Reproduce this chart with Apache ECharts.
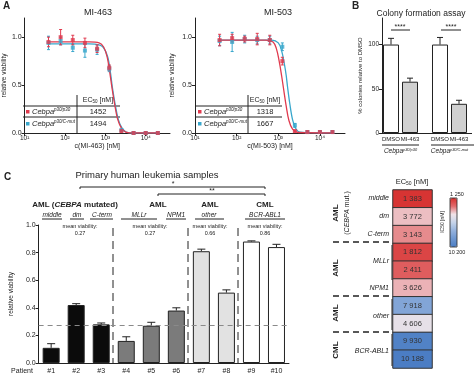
<!DOCTYPE html>
<html>
<head>
<meta charset="utf-8">
<script src="https://cdn.jsdelivr.net/npm/echarts@6/dist/echarts.min.js"></script>
<style>
  html, body { margin: 0; padding: 0; background: #fff; }
  #chart { width: 474px; height: 375px; }
</style>
</head>
<body>
<div id="chart"></div>
<script>
// ---- data ----
const doses = [39, 78, 156, 312, 625, 1250, 2500, 5000, 10000, 20000]

// MI-463 dose response
const mi463Red = [0.95, 1.00, 0.97, 0.94, 0.88, 0.68, 0.02, 0.00, 0.00, 0.00]
const mi463RedErr = [0.05, 0.08, 0.05, 0.05, 0.04, 0.03, 0.01, 0.01, 0.01, 0.01]
const mi463Blue = [0.94, 0.96, 0.89, 0.86, 0.87, 0.67, 0.03, 0.00, 0.00, 0.00]
const mi463BlueErr = [0.07, 0.04, 0.04, 0.07, 0.05, 0.03, 0.01, 0.01, 0.01, 0.01]
const mi463RedFit = [[39, 0.95], [400, 0.95], [700, 0.94], [900, 0.90], [1100, 0.80], [1300, 0.62], [1450, 0.48], [1700, 0.30], [2000, 0.15], [2500, 0.05], [3200, 0.01], [5000, 0], [20000, 0]]
const mi463BlueFit = [[39, 0.93], [400, 0.93], [700, 0.92], [900, 0.89], [1150, 0.79], [1350, 0.62], [1500, 0.47], [1750, 0.30], [2100, 0.14], [2600, 0.05], [3300, 0.01], [5000, 0], [20000, 0]]

// MI-503 dose response
const mi503Red = [0.97, 0.99, 0.98, 0.98, 0.97, 0.75, 0.02, 0.01, 0.01, 0.01]
const mi503RedErr = [0.06, 0.04, 0.03, 0.06, 0.05, 0.04, 0.01, 0.01, 0.01, 0.01]
const mi503Blue = [0.96, 0.95, 0.98, 0.97, 0.97, 0.90, 0.08, 0.01, 0.01, 0.01]
const mi503BlueErr = [0.05, 0.10, 0.04, 0.04, 0.04, 0.04, 0.02, 0.01, 0.01, 0.01]
const mi503RedFit = [[39, 0.97], [500, 0.97], [750, 0.95], [900, 0.88], [1050, 0.75], [1200, 0.60], [1320, 0.48], [1550, 0.28], [1800, 0.13], [2200, 0.04], [3000, 0.005], [20000, 0]]
const mi503BlueFit = [[39, 0.97], [700, 0.97], [1000, 0.94], [1200, 0.86], [1400, 0.72], [1550, 0.60], [1670, 0.48], [1900, 0.30], [2200, 0.14], [2600, 0.05], [3300, 0.01], [20000, 0]]

// colony formation (categories = genotype, series = treatment)
const genotypes = ['p30/p30', 'p30/C-mut']
const dmsoColonies = [100, 100]
const dmsoErr = [7, 8]
const mi463Colonies = [58, 33]
const mi463ColErr = [4, 4]

// primary samples
const patients = ['#1', '#2', '#3', '#4', '#5', '#6', '#7', '#8', '#9', '#10']
const viability = [0.11, 0.42, 0.28, 0.16, 0.27, 0.38, 0.81, 0.51, 0.88, 0.84]
const viabilityErr = [0.03, 0.01, 0.01, 0.03, 0.025, 0.02, 0.015, 0.02, 0.005, 0.02]
const patientGroup = [0, 0, 0, 1, 1, 1, 2, 2, 3, 3]
const meanViability = 0.27

// EC50 heatmap
const ec50Rows = ['middle', 'dm', 'C-term', 'MLLr-a', 'MLLr-b', 'NPM1', 'other-a', 'other-b', 'BCR-ABL1-a', 'BCR-ABL1-b']
const ec50Values = [1383, 3772, 3143, 1812, 2411, 3626, 7918, 4606, 9930, 10188]
const ec50Min = 1250
const ec50Max = 10200

// ---- styling ----
const FONT = 'Arial, "Liberation Sans", sans-serif'
const RED = '#e03a4e'
const BLUE = '#39a7cc'
const INK = '#222'
const groupFill = ['#0b0b0b', '#7b7b7b', '#e2e2e2', '#ffffff']
const colonyBarW = 16
const colonyBarGap = 3

const sup = { 1: '¹', 2: '²', 3: '³', 4: '⁴' }
const spaced = v => String(v).replace(/\B(?=(\d{3})+(?!\d))/g, ' ')

function errRender(capW, both, color, dx = 0) {
  return function (params, api) {
    const x = api.value(0)
    const y = api.value(1)
    const e = api.value(2)
    const hi = api.coord([x, y + e])
    const lo = api.coord([x, both ? y - e : y])
    hi[0] += dx
    lo[0] += dx
    const st = { stroke: color, lineWidth: 1 }
    const children = [
      { type: 'line', shape: { x1: hi[0], y1: hi[1], x2: lo[0], y2: lo[1] }, style: st },
      { type: 'line', shape: { x1: hi[0] - capW, y1: hi[1], x2: hi[0] + capW, y2: hi[1] }, style: st }
    ]
    if (both) children.push({ type: 'line', shape: { x1: lo[0] - capW, y1: lo[1], x2: lo[0] + capW, y2: lo[1] }, style: st })
    return { type: 'group', children }
  }
}

const pairs = (xs, ys) => xs.map((x, i) => [x, ys[i]])
const triples = (xs, ys, es) => xs.map((x, i) => [x, ys[i], es[i]])

function logXAxis(grid, name) {
  return {
    type: 'log', logBase: 10, gridIndex: grid, min: 10, max: 40000,
    name, nameLocation: 'middle', nameGap: 10,
    nameTextStyle: { fontSize: 7, fontFamily: FONT, color: INK },
    axisLine: { lineStyle: { color: INK, width: 1 } },
    axisTick: { length: 3, lineStyle: { color: INK } },
    axisLabel: { fontSize: 6.5, fontFamily: FONT, color: INK, margin: 2, showMaxLabel: false,
      formatter: v => sup[Math.round(Math.log10(v))] ? '10' + sup[Math.round(Math.log10(v))] : '' },
    splitLine: { show: false }
  }
}
function viabYAxis(grid, gap) {
  return {
    type: 'value', gridIndex: grid, min: 0, max: 1.2, interval: 0.5,
    name: 'relative viability', nameLocation: 'middle', nameGap: gap,
    nameTextStyle: { fontSize: 6.5, fontFamily: FONT, color: INK },
    axisLine: { show: true, lineStyle: { color: INK } },
    axisTick: { show: true, length: 3, lineStyle: { color: INK } },
    axisLabel: { fontSize: 7, fontFamily: FONT, color: INK, margin: 3, showMaxLabel: false, formatter: v => v.toFixed(1) },
    splitLine: { show: false }
  }
}

function doseSeries(ax, fit, pts, err, color) {
  return [
    { type: 'line', xAxisIndex: ax, yAxisIndex: ax, data: fit, smooth: 0.35, showSymbol: false,
      lineStyle: { color, width: 1.3 }, z: 3 },
    { type: 'custom', xAxisIndex: ax, yAxisIndex: ax, data: triples(doses, pts, err),
      encode: { x: 0, y: 1 }, renderItem: errRender(1.5, true, color), z: 4 },
    { type: 'scatter', xAxisIndex: ax, yAxisIndex: ax, data: pairs(doses, pts), symbol: 'rect',
      symbolSize: 4, itemStyle: { color }, z: 5 }
  ]
}

// ---- annotations ----
function txt(x, y, text, o = {}) {
  return {
    type: 'text', x, y, rotation: o.rot || 0, silent: true,
    style: {
      text, fill: o.color || INK, font: (o.style || '') + ' ' + (o.weight || 'normal') + ' ' + (o.size || 7) + 'px ' + FONT,
      align: o.align || 'center', verticalAlign: 'middle', rich: o.rich
    }
  }
}
function seg(x1, y1, x2, y2, o = {}) {
  return { type: 'line', silent: true, shape: { x1, y1, x2, y2 },
    style: { stroke: o.color || INK, lineWidth: o.w || 1, lineDash: o.dash || null } }
}
function bracket(x1, x2, y) {
  return [seg(x1, y, x2, y), seg(x1, y, x1, y + 2), seg(x2, y, x2, y + 2)]
}
const cebpaRich = size => ({
  i: { fontStyle: 'italic', fontSize: size, fontFamily: FONT, color: INK },
  s: { fontStyle: 'italic', fontSize: size * 0.6, fontFamily: FONT, color: INK, verticalAlign: 'top', padding: [0, 0, size * 0.5, 0] }
})
const ecRich = {
  n: { fontSize: 7, fontFamily: FONT, color: INK },
  b: { fontSize: 4.5, fontFamily: FONT, color: INK, padding: [4, 0, 0, 0] }
}

const graphic = [
  // panel A
  txt(3, 6, 'A', { weight: 'bold', size: 10, align: 'left' }),
  txt(98, 13, 'MI-463', { size: 9 }),
  txt(278, 13, 'MI-503', { size: 9 }),
  seg(23, 106, 120, 106), seg(23, 117, 120, 117), seg(77, 95, 77, 133),
  txt(98, 100, '{n|EC}{b|50}{n| [nM]}', { rich: ecRich }),
  txt(98, 112, '1452', { size: 7.5 }), txt(98, 124, '1494', { size: 7.5 }),
  { type: 'rect', shape: { x: 26, y: 110, width: 3.5, height: 3.5 }, style: { fill: RED } },
  { type: 'rect', shape: { x: 26, y: 122, width: 3.5, height: 3.5 }, style: { fill: BLUE } },
  txt(32, 112, '{i|Cebpa}{s|p30/p30}', { align: 'left', rich: cebpaRich(7.5) }),
  txt(32, 124, '{i|Cebpa}{s|p30/C-mut}', { align: 'left', rich: cebpaRich(7.5) }),
  seg(195, 106, 282, 106), seg(195, 117, 282, 117), seg(248, 95, 248, 133),
  txt(265, 100, '{n|EC}{b|50}{n| [nM]}', { rich: ecRich }),
  txt(265, 112, '1318', { size: 7.5 }), txt(265, 124, '1667', { size: 7.5 }),
  { type: 'rect', shape: { x: 198, y: 110, width: 3.5, height: 3.5 }, style: { fill: RED } },
  { type: 'rect', shape: { x: 198, y: 122, width: 3.5, height: 3.5 }, style: { fill: BLUE } },
  txt(204, 112, '{i|Cebpa}{s|p30/p30}', { align: 'left', rich: cebpaRich(7.5) }),
  txt(204, 124, '{i|Cebpa}{s|p30/C-mut}', { align: 'left', rich: cebpaRich(7.5) }),

  // panel B
  txt(352, 6, 'B', { weight: 'bold', size: 10, align: 'left' }),
  txt(421, 14, 'Colony formation assay', { size: 8.5 }),
  seg(391, 30, 410, 30), txt(400, 27, '****', { size: 7 }),
  seg(441, 30, 461, 30), txt(451, 27, '****', { size: 7 }),
  seg(382, 145, 419, 145),
  seg(431, 145, 474, 145),

  // panel C
  txt(4, 177, 'C', { weight: 'bold', size: 10, align: 'left' }),
  txt(147, 175, 'Primary human leukemia samples', { size: 9.5 }),
  ...bracket(80, 265, 187), txt(173, 184, '*', { size: 7 }),
  ...bracket(158, 265, 194), txt(212, 191, '**', { size: 7 }),
  txt(75, 205, '{b|AML (}{bi|CEBPA}{b| mutated)}', { rich: {
    b: { fontWeight: 'bold', fontSize: 8, fontFamily: FONT, color: INK },
    bi: { fontWeight: 'bold', fontStyle: 'italic', fontSize: 8, fontFamily: FONT, color: INK } } }),
  txt(158, 205, 'AML', { weight: 'bold', size: 8 }),
  txt(210, 205, 'AML', { weight: 'bold', size: 8 }),
  txt(265, 205, 'CML', { weight: 'bold', size: 8 }),
  txt(52, 215, 'middle', { style: 'italic', size: 6.5 }), seg(42, 219, 62, 219),
  txt(77, 215, 'dm', { style: 'italic', size: 6.5 }), seg(70, 219, 84, 219),
  txt(102, 215, 'C-term', { style: 'italic', size: 6.5 }), seg(90, 219, 113, 219),
  txt(139, 215, 'MLLr', { style: 'italic', size: 6.5 }), seg(121, 219, 157, 219),
  txt(176, 215, 'NPM1', { style: 'italic', size: 6.5 }), seg(166, 219, 186, 219),
  txt(209, 215, 'other', { style: 'italic', size: 6.5 }), seg(195, 219, 224, 219),
  txt(265, 215, 'BCR-ABL1', { style: 'italic', size: 6.5 }), seg(245, 219, 285, 219),
  ...[[80, '0.27'], [150, '0.27'], [210, '0.66'], [265, '0.86']].flatMap(([x, v]) => [
    txt(x, 226, 'mean viability:', { size: 5.5 }), txt(x, 233, v, { size: 5.5 })
  ]),
  seg(113, 228, 113, 363, { dash: [8, 5] }),
  seg(188, 228, 188, 363, { dash: [8, 5] }),
  seg(238, 228, 238, 363, { dash: [8, 5] }),
  txt(22, 371, 'Patient', { size: 7 }),

  // heatmap panel
  txt(412, 182, '{n|EC}{b|50}{n| [nM]}', { rich: { n: { fontSize: 7.5, fontFamily: FONT, color: INK }, b: { fontSize: 5, fontFamily: FONT, color: INK, padding: [4, 0, 0, 0] } } }),
  ...[['middle', 198], ['dm', 216], ['C-term', 234], ['MLLr', 261], ['NPM1', 288], ['other', 316], ['BCR-ABL1', 351]]
    .map(([t, y]) => txt(389, y, t, { style: 'italic', size: 7, align: 'right' })),
  seg(392, 245, 392, 280), seg(392, 299, 392, 330), seg(392, 334, 392, 366),
  seg(333, 242, 393, 242, { dash: [6, 4], w: 1.3 }),
  seg(333, 296, 393, 296, { dash: [6, 4], w: 1.3 }),
  seg(333, 332, 393, 332, { dash: [6, 4], w: 1.3 }),
  txt(336, 213, 'AML', { weight: 'bold', size: 8, rot: Math.PI / 2 }),
  txt(347, 213, '{n|(}{i|CEBPA}{n| mut.)}', { rot: Math.PI / 2, rich: {
    n: { fontSize: 7, fontFamily: FONT, color: INK }, i: { fontStyle: 'italic', fontSize: 7, fontFamily: FONT, color: INK } } }),
  txt(336, 268, 'AML', { weight: 'bold', size: 8, rot: Math.PI / 2 }),
  txt(336, 313, 'AML', { weight: 'bold', size: 8, rot: Math.PI / 2 }),
  txt(336, 350, 'CML', { weight: 'bold', size: 8, rot: Math.PI / 2 }),
  txt(457, 194, '1 250', { size: 5.5 }),
  txt(457, 252, '10 200', { size: 5.5 }),
  txt(443, 222, 'IC50 [nM]', { size: 5, rot: Math.PI / 2 }),
  { type: 'rect', silent: true, z: 100, shape: { x: 450, y: 198, width: 7, height: 49 }, style: { fill: 'none', stroke: INK, lineWidth: 0.8 } },
  // x axis line for panel B, from the y axis to the right edge
  seg(382, 133.5, 472, 133.5)
]

const colonyOffset = (colonyBarW + colonyBarGap) / 2
const colonyBar = (name, data, fill) => ({
  type: 'bar', name, xAxisIndex: 2, yAxisIndex: 2, barWidth: colonyBarW,
  barGap: (colonyBarGap / colonyBarW * 100) + '%', data,
  itemStyle: { color: fill, borderColor: INK, borderWidth: 1 },
  label: { show: true, position: 'bottom', distance: 3, fontSize: 6, fontFamily: FONT, color: INK, formatter: p => p.seriesName }
})

const series = [
  ...doseSeries(0, mi463BlueFit, mi463Blue, mi463BlueErr, BLUE),
  ...doseSeries(0, mi463RedFit, mi463Red, mi463RedErr, RED),
  ...doseSeries(1, mi503BlueFit, mi503Blue, mi503BlueErr, BLUE),
  ...doseSeries(1, mi503RedFit, mi503Red, mi503RedErr, RED),
  colonyBar('DMSO', dmsoColonies, '#fff'),
  colonyBar('MI-463', mi463Colonies, '#d0d0d0'),
  {
    type: 'custom', xAxisIndex: 2, yAxisIndex: 2, encode: { x: 0, y: 1 },
    data: triples([0, 1], dmsoColonies, dmsoErr),
    renderItem: errRender(3, false, INK, -colonyOffset), z: 1
  },
  {
    type: 'custom', xAxisIndex: 2, yAxisIndex: 2, encode: { x: 0, y: 1 },
    data: triples([0, 1], mi463Colonies, mi463ColErr),
    renderItem: errRender(3, false, INK, colonyOffset), z: 1
  },
  {
    type: 'bar', xAxisIndex: 3, yAxisIndex: 3, barWidth: 17,
    data: viability.map((v, i) => ({
      value: v,
      itemStyle: { color: groupFill[patientGroup[i]], borderColor: INK, borderWidth: 1 }
    })),
    markLine: {
      silent: true, symbol: 'none', label: { show: false },
      lineStyle: { color: '#8a8a8a', type: [5, 4], width: 1 },
      data: [{ yAxis: meanViability }]
    }
  },
  {
    type: 'custom', xAxisIndex: 3, yAxisIndex: 3, encode: { x: 0, y: 1 },
    data: viability.map((v, i) => [i, v, viabilityErr[i]]),
    renderItem: errRender(4, false, INK), z: 1
  },
  {
    type: 'heatmap', xAxisIndex: 4, yAxisIndex: 4,
    data: ec50Values.map((v, i) => [0, i, v]),
    itemStyle: { borderColor: '#333', borderWidth: 1 },
    label: { show: true, fontSize: 7.5, fontFamily: FONT, color: '#333', formatter: p => spaced(p.value[2]) }
  }
]

const chart = echarts.init(document.getElementById('chart'))

chart.setOption({
  backgroundColor: '#fff',
  animation: false,
  textStyle: { fontFamily: FONT },
  grid: [
    { left: 23, top: 18, width: 147, height: 115 },
    { left: 195, top: 18, width: 150, height: 115 },
    { left: 376, top: 18, width: 98, height: 115 },
    { left: 37, top: 225, width: 252, height: 138 },
    { left: 393, top: 190, width: 39, height: 178 }
  ],
  xAxis: [
    logXAxis(0, 'c(MI-463) [nM]'),
    logXAxis(1, 'c(MI-503) [nM]'),
    {
      type: 'category', gridIndex: 2, data: genotypes,
      axisLine: { show: false }, axisTick: { show: false },
      axisLabel: { interval: 0, margin: 15, formatter: v => '{i|Cebpa}{s|' + v + '}', rich: cebpaRich(6.5) }
    },
    {
      type: 'category', gridIndex: 3, data: patients,
      axisLine: { lineStyle: { color: INK } }, axisTick: { show: false },
      axisLabel: { interval: 0, fontSize: 7, fontFamily: FONT, color: INK, margin: 5 }
    },
    { type: 'category', gridIndex: 4, data: ['EC50'], show: false }
  ],
  yAxis: [
    viabYAxis(0, 16),
    viabYAxis(1, 19),
    {
      type: 'value', gridIndex: 2, min: 0, max: 130, interval: 50, offset: -6,
      name: '% colonies relative to DMSO', nameLocation: 'middle', nameGap: 19,
      nameTextStyle: { fontSize: 6, fontFamily: FONT, color: INK },
      axisLine: { show: true, lineStyle: { color: INK } },
      axisTick: { show: true, length: 3, lineStyle: { color: INK } },
      axisLabel: { fontSize: 6.5, fontFamily: FONT, color: INK, margin: 3, showMaxLabel: false },
      splitLine: { show: false }
    },
    {
      type: 'value', gridIndex: 3, min: 0, max: 1, interval: 0.2,
      name: 'relative viability', nameLocation: 'middle', nameGap: 20,
      nameTextStyle: { fontSize: 6.5, fontFamily: FONT, color: INK },
      axisLine: { show: true, lineStyle: { color: INK } },
      axisTick: { show: true, length: 3, lineStyle: { color: INK } },
      axisLabel: { fontSize: 7, fontFamily: FONT, color: INK, margin: 3, formatter: v => v.toFixed(1) },
      splitLine: { show: false }
    },
    { type: 'category', gridIndex: 4, data: ec50Rows, inverse: true, show: false }
  ],
  visualMap: {
    type: 'continuous', seriesIndex: series.length - 1, min: ec50Min, max: ec50Max, inverse: true,
    orient: 'vertical', left: 450, top: 198, itemWidth: 7, itemHeight: 49,
    padding: 0, calculable: false, text: null, showLabel: false,
    inRange: { color: ['#d62f2d', '#e26a6c', '#f1e4e8', '#c6d4ea', '#94b2dd', '#6d96d0', '#4b7dc4'] }
  },
  series,
  graphic
})
</script>
</body>
</html>
